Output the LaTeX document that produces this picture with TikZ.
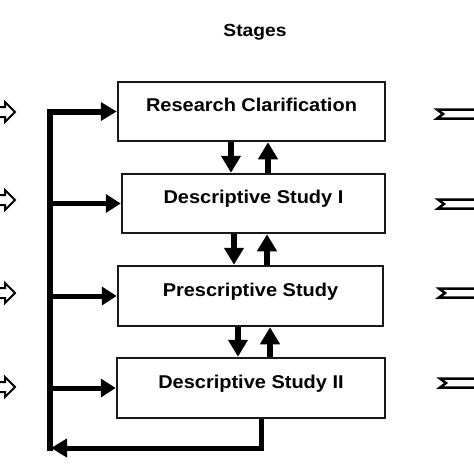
\documentclass[tikz,border=0pt]{standalone}
\usepackage{fontspec}
\setmainfont{Liberation Sans}[FakeStretch=1.1]
\newfontfamily\boxfont{Liberation Sans}[FakeStretch=1.08]
\usetikzlibrary{arrows.meta}
\begin{document}
\begin{tikzpicture}[x=1pt,y=-1pt,
  stagebox/.style={draw=black!90, line width=2.5pt, fill=white, inner sep=0pt,
    text height=0pt, text depth=0pt, font=\boxfont\bfseries\fontsize{18.5}{21}\selectfont},
  vflow/.style={line width=6pt, -{Triangle[width=19pt,length=17pt]}},
  busline/.style={line width=6pt},
  busarrow/.style={line width=5pt, -{Triangle[width=18pt,length=15pt]}},
  openarrow/.style={draw=black, line width=2pt, fill=white, line join=miter},
  notcharrow/.style={draw=black, line width=2.5pt, fill=white, line join=miter}
]
\useasboundingbox (0,0) rectangle (474,474);
\fill[white] (0,0) rectangle (474,474);

\node[font=\bfseries\fontsize{17.5}{20}\selectfont, anchor=base] (title) at (255,36) {Stages};

\node[stagebox, minimum width=267pt, minimum height=59pt] (rc) at (251.5,111.5) {Research Clarification};
\node[stagebox, minimum width=263pt, minimum height=59pt] (ds1) at (253.5,203.5) {Descriptive Study I};
\node[stagebox, minimum width=265pt, minimum height=60pt] (ps) at (250.5,296) {Prescriptive Study};
\node[stagebox, minimum width=268pt, minimum height=60pt] (ds2) at (251,388) {Descriptive Study II};

% vertical flow arrows
\draw[vflow] (rc.south -| 231,0) -- (ds1.north -| 231,0);
\draw[vflow] (ds1.north -| 268,0) -- (rc.south -| 268,0);
\draw[vflow] (ds1.south -| 234,0) -- (ps.north -| 234,0);
\draw[vflow] (ps.north -| 267,0) -- (ds1.south -| 267,0);
\draw[vflow] (ps.south -| 238,0) -- (ds2.north -| 238,0);
\draw[vflow] (ds2.north -| 270,0) -- (ps.south -| 270,0);

% left bus
\coordinate (busbot) at (49.5,451);
\coordinate (retturn) at (261,448);
\draw[busline, line join=miter, -{Triangle[width=18pt,length=16pt]}] (busbot) |- (rc.west);
\draw[busarrow] (ds1.west -| busbot) -- (ds1.west);
\draw[busarrow] (ps.west -| busbot) -- (ps.west);
\draw[busarrow] (ds2.west -| busbot) -- (ds2.west);
\coordinate (retend) at (51,448);
\draw[line width=5pt, line join=miter, -{Triangle[width=18pt,length=16pt]}] (ds2.south -| retturn) |- (retend);

% left open arrows (clipped at edge)
\begin{scope}
\clip (0,0) rectangle (474,474);
\foreach \yy in {112,200,293,387}{
  \draw[openarrow] (-20,\yy-5) -- (5,\yy-5) -- (5,\yy-10) -- (15,\yy) -- (5,\yy+10) -- (5,\yy+5) -- (-20,\yy+5) -- cycle;
}
% right notched arrows
\foreach \yy/\xx in {114/437,204/438,293/439,383/440}{
  \draw[notcharrow] (490,\yy-4.5) -- (\xx,\yy-4.5) -- (\xx+6,\yy) -- (\xx,\yy+4.5) -- (490,\yy+4.5);
}
\end{scope}
\end{tikzpicture}
\end{document}
